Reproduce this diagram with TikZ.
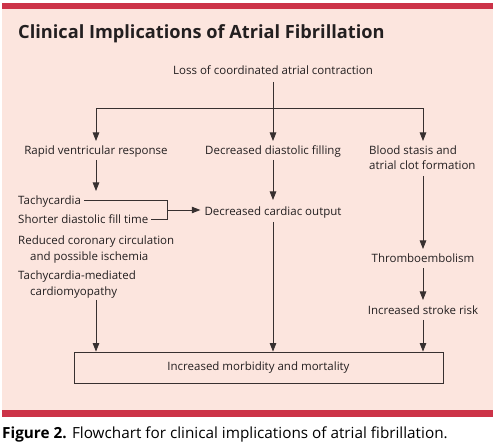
\documentclass[tikz,border=0pt]{standalone}
\usepackage{fontspec}
\setmainfont{Open Sans}
\usepackage{xcolor}
\usepackage{tikz}
\usetikzlibrary{arrows.meta,positioning,calc}
\definecolor{afbar}{RGB}{204,51,72}
\definecolor{afbg}{RGB}{252,229,222}
\definecolor{afedge}{RGB}{55,48,48}
\definecolor{afink}{RGB}{35,31,32}
\tikzset{
  lbl/.style={font=\fontsize{11.5}{13}\selectfont, text=afink, inner sep=0pt},
  lblw/.style={lbl, anchor=base west},
  lblc/.style={lbl, anchor=base},
  arr/.style={-{Triangle[length=8.5pt,width=6.5pt]}, draw=afedge, line width=0.8pt},
  ln/.style={draw=afedge, line width=0.8pt},
  outbox/.style={draw=afedge, line width=0.8pt, fill=afbg},
  every picture/.append style={line join=miter}
}
\begin{document}
\begin{tikzpicture}[x=1pt,y=-1pt]
  \useasboundingbox (0,0) rectangle (495,443);
  % panel
  \fill[afbg] (2,9) rectangle (493,410);
  \fill[afbar] (2,3) rectangle (493,9);
  \fill[afbar] (2,410) rectangle (493,417);
  \node[anchor=base west, inner sep=0pt, text=afink,
        font=\fontsize{18.2}{20}\selectfont\bfseries] (title) at (18,38.5)
        {Clinical Implications of Atrial Fibrillation};
  % top
  \node[lblc] (loss) at (273,75) {Loss of coordinated atrial contraction};
  \coordinate (split) at (273,108);
  % left column
  \node[lblc] (rapid) at (96,155) {Rapid ventricular response};
  \node[lblw] (tachy) at (18,204.5) {Tachycardia};
  \node[lblw] (shorter) at (18,223.5) {Shorter diastolic fill time};
  \node[lblw] (reduced) at (18,244.5) {Reduced coronary circulation};
  \node[lblw] (ischem) at (30,260.5) {and possible ischemia};
  \node[lblw] (tmed) at (18,279.5) {Tachycardia-mediated};
  \node[lblw] (cmyo) at (30,295.5) {cardiomyopathy};
  % middle column
  \node[lblc] (filling) at (273,155) {Decreased diastolic filling};
  \node[lblc] (output) at (273,216) {Decreased cardiac output};
  % right column
  \node[lblw] (stasis) at (369,154.5) {Blood stasis and};
  \node[lblw] (clot) at (369,169.5) {atrial clot formation};
  \node[lblc] (thrombo) at (423,262.5) {Thromboembolism};
  \node[lblc] (stroke) at (423,314.5) {Increased stroke risk};
  % bottom
  \node[outbox, minimum width=369pt, minimum height=31pt, inner sep=0pt,
        font=\fontsize{11.5}{13}\selectfont, text=afink] (morb) at (258.5,367.5)
        {Increased morbidity and mortality};
  % connectors
  \coordinate (tend) at ($(tachy.base east)+(3,-4)$);
  \coordinate (send) at ($(shorter.base east)+(3,-4)$);
  \coordinate (brk) at (167,210);
  \draw[ln] (tend) -| (brk |- send) -- (send);
  \draw[arr] (brk) -- ($(output.base west |- brk)+(-4,0)$);
  \draw[ln] (273,82) -- (split);
  \draw[arr] (split) -| (96,141);
  \draw[arr] (split) -- (273,141);
  \draw[arr] (split) -| (423,141);
  \draw[arr] (96,160) -- (96,191);
  \draw[arr] (273,160) -- (273,200);
  \draw[arr] (423,176) -- (423,249);
  \draw[arr] (423,268) -- (423,300);
  \draw[arr] (96,300) -- (morb.north -| 96,0);
  \draw[arr] (273,222) -- (morb.north -| 273,0);
  \draw[arr] (423,320) -- (morb.north -| 423,0);
  % caption
  \node[anchor=base west, inner sep=0pt, text=black,
        font=\fontsize{15.3}{17}\selectfont] (cap) at (2,438)
        {\textbf{Figure 2.} Flowchart for clinical implications of atrial fibrillation.};
\end{tikzpicture}
\end{document}
